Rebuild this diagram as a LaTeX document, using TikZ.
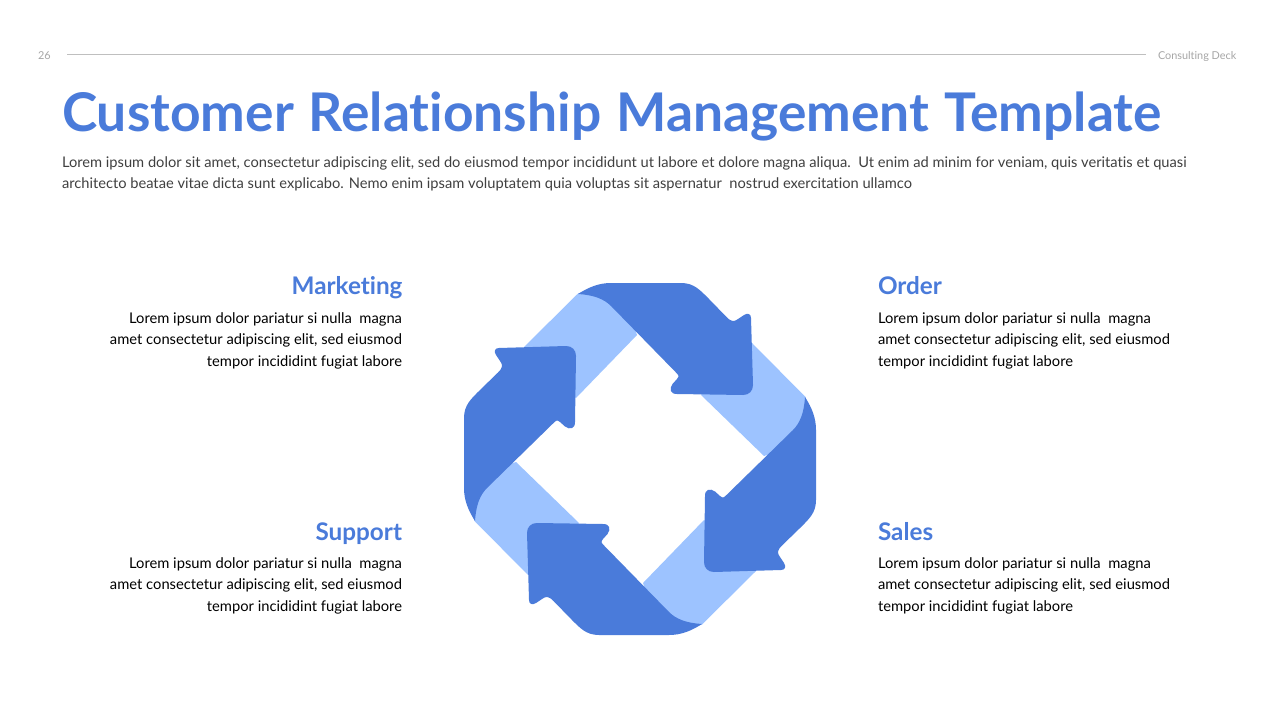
\documentclass[tikz,border=0pt]{standalone}
\usepackage{fontspec}
\setmainfont[Ligatures={NoCommon}]{Lato}
\definecolor{darkblue}{HTML}{4A7BDA}
\definecolor{lightblue}{HTML}{9DC3FF}
\definecolor{bodytext}{HTML}{404040}
\definecolor{ruleline}{HTML}{BFBFBF}
\definecolor{pagegray}{HTML}{A6A6A6}
\tikzset{
  x=0.75pt,y=-0.75pt,
  txt/.style={inner sep=0pt,outer sep=0pt,anchor=base west,align=left},
  txtr/.style={inner sep=0pt,outer sep=0pt,anchor=base east,align=right},
  titletext/.style={txt,text=darkblue,font=\fontsize{40}{46}\selectfont\bfseries},
  leadtext/.style={txt,text=bodytext,font=\fontsize{11}{13}\selectfont},
  headtext/.style={text=darkblue,font=\fontsize{18.2}{22}\selectfont\bfseries},
  cardtext/.style={text=black,font=\fontsize{11.05}{13}\selectfont},
  smalltext/.style={text=pagegray,font=\fontsize{8.15}{10}\selectfont},
  bandshape/.style={fill=lightblue,draw=none},
  arrowshape/.style={fill=darkblue,draw=none},
}
\begin{document}
\begin{tikzpicture}
\useasboundingbox (0,0) rectangle (1280,720);
\fill[white] (0,0) rectangle (1280,720);
\node[txt,smalltext] (pagenum) at (38,59.5) {26};
\node[txt,smalltext] (deck) at (1158,59.5) {Consulting Deck};
\coordinate (ruleL) at (67,54.5);
\coordinate (ruleR) at (1146,54.5);
\draw[ruleline,line width=0.75pt] (ruleL) -- (ruleR);
\node[titletext] (title) at (62,132) {Customer\hspace{1.5pt} Relationship\hspace{1.75pt} Management\hspace{1.75pt} Template};
\node[leadtext] (lead1) at (62,167.5) {Lorem ipsum dolor sit amet, consectetur adipiscing elit, sed do eiusmod tempor incididunt ut labore et dolore magna aliqua.\ \ Ut enim ad minim for veniam, quis veritatis et quasi};
\node[leadtext] (lead2) at (62,188.5) {architecto beatae vitae dicta sunt explicabo. Nemo enim ipsam voluptatem quia voluptas sit aspernatur\ \ nostrud exercitation ullamco};
% bands
\foreach \a in {0,-90,-180,-270}{
  \begin{scope}[rotate around={\a:(640,459)}]
    \fill[bandshape] (524,347) -- (578,293.5) -- (600,287) -- (625,300) -- (637,335) -- (576,398) -- (550,380) -- cycle;
  \end{scope}
}
% arrows
\foreach \a in {0,-90,-180,-270}{
  \begin{scope}[rotate around={\a:(640,459)}]
    \fill[arrowshape] (464,455) -- (464,418) .. controls (464,405) and (471,399) .. (480,390)
      -- (498,372.5) .. controls (503,367.5) and (503,365) .. (500,361)
      -- (496,355) .. controls (493.5,351) and (495,348) .. (499,348)
      -- (566,346) .. controls (572,346) and (576,350) .. (576,356)
      -- (575,422) .. controls (575,429) and (570,430) .. (565,426.5)
      -- (560,422) .. controls (557,419.5) and (556,420.5) .. (553,423.5)
      -- (487,488) .. controls (480,495) and (476,505) .. (475,521)
      .. controls (468,510) and (464,500) .. (464,488) -- cycle;
  \end{scope}
}
\node[txtr,headtext] (mk) at (402.5,294) {Marketing};
\node[txtr,cardtext] (mk1) at (402,323.5) {Lorem ipsum dolor pariatur si nulla\ \ magna};
\node[txtr,cardtext] (mk2) at (402,344.5) {amet consectetur adipiscing elit, sed eiusmod};
\node[txtr,cardtext] (mk3) at (402,366) {tempor incididint fugiat labore};
\node[txtr,headtext] (su) at (402,540) {Support};
\node[txtr,cardtext] (su1) at (402,568.5) {Lorem ipsum dolor pariatur si nulla\ \ magna};
\node[txtr,cardtext] (su2) at (402,589.5) {amet consectetur adipiscing elit, sed eiusmod};
\node[txtr,cardtext] (su3) at (402,611) {tempor incididint fugiat labore};
\node[txt,headtext] (or) at (878,294) {Order};
\node[txt,cardtext] (or1) at (878,323.5) {Lorem ipsum dolor pariatur si nulla\ \ magna};
\node[txt,cardtext] (or2) at (878,344.5) {amet consectetur adipiscing elit, sed eiusmod};
\node[txt,cardtext] (or3) at (878,366) {tempor incididint fugiat labore};
\node[txt,headtext] (sa) at (878,540) {Sales};
\node[txt,cardtext] (sa1) at (878,568.5) {Lorem ipsum dolor pariatur si nulla\ \ magna};
\node[txt,cardtext] (sa2) at (878,589.5) {amet consectetur adipiscing elit, sed eiusmod};
\node[txt,cardtext] (sa3) at (878,611) {tempor incididint fugiat labore};
\end{tikzpicture}
\end{document}
